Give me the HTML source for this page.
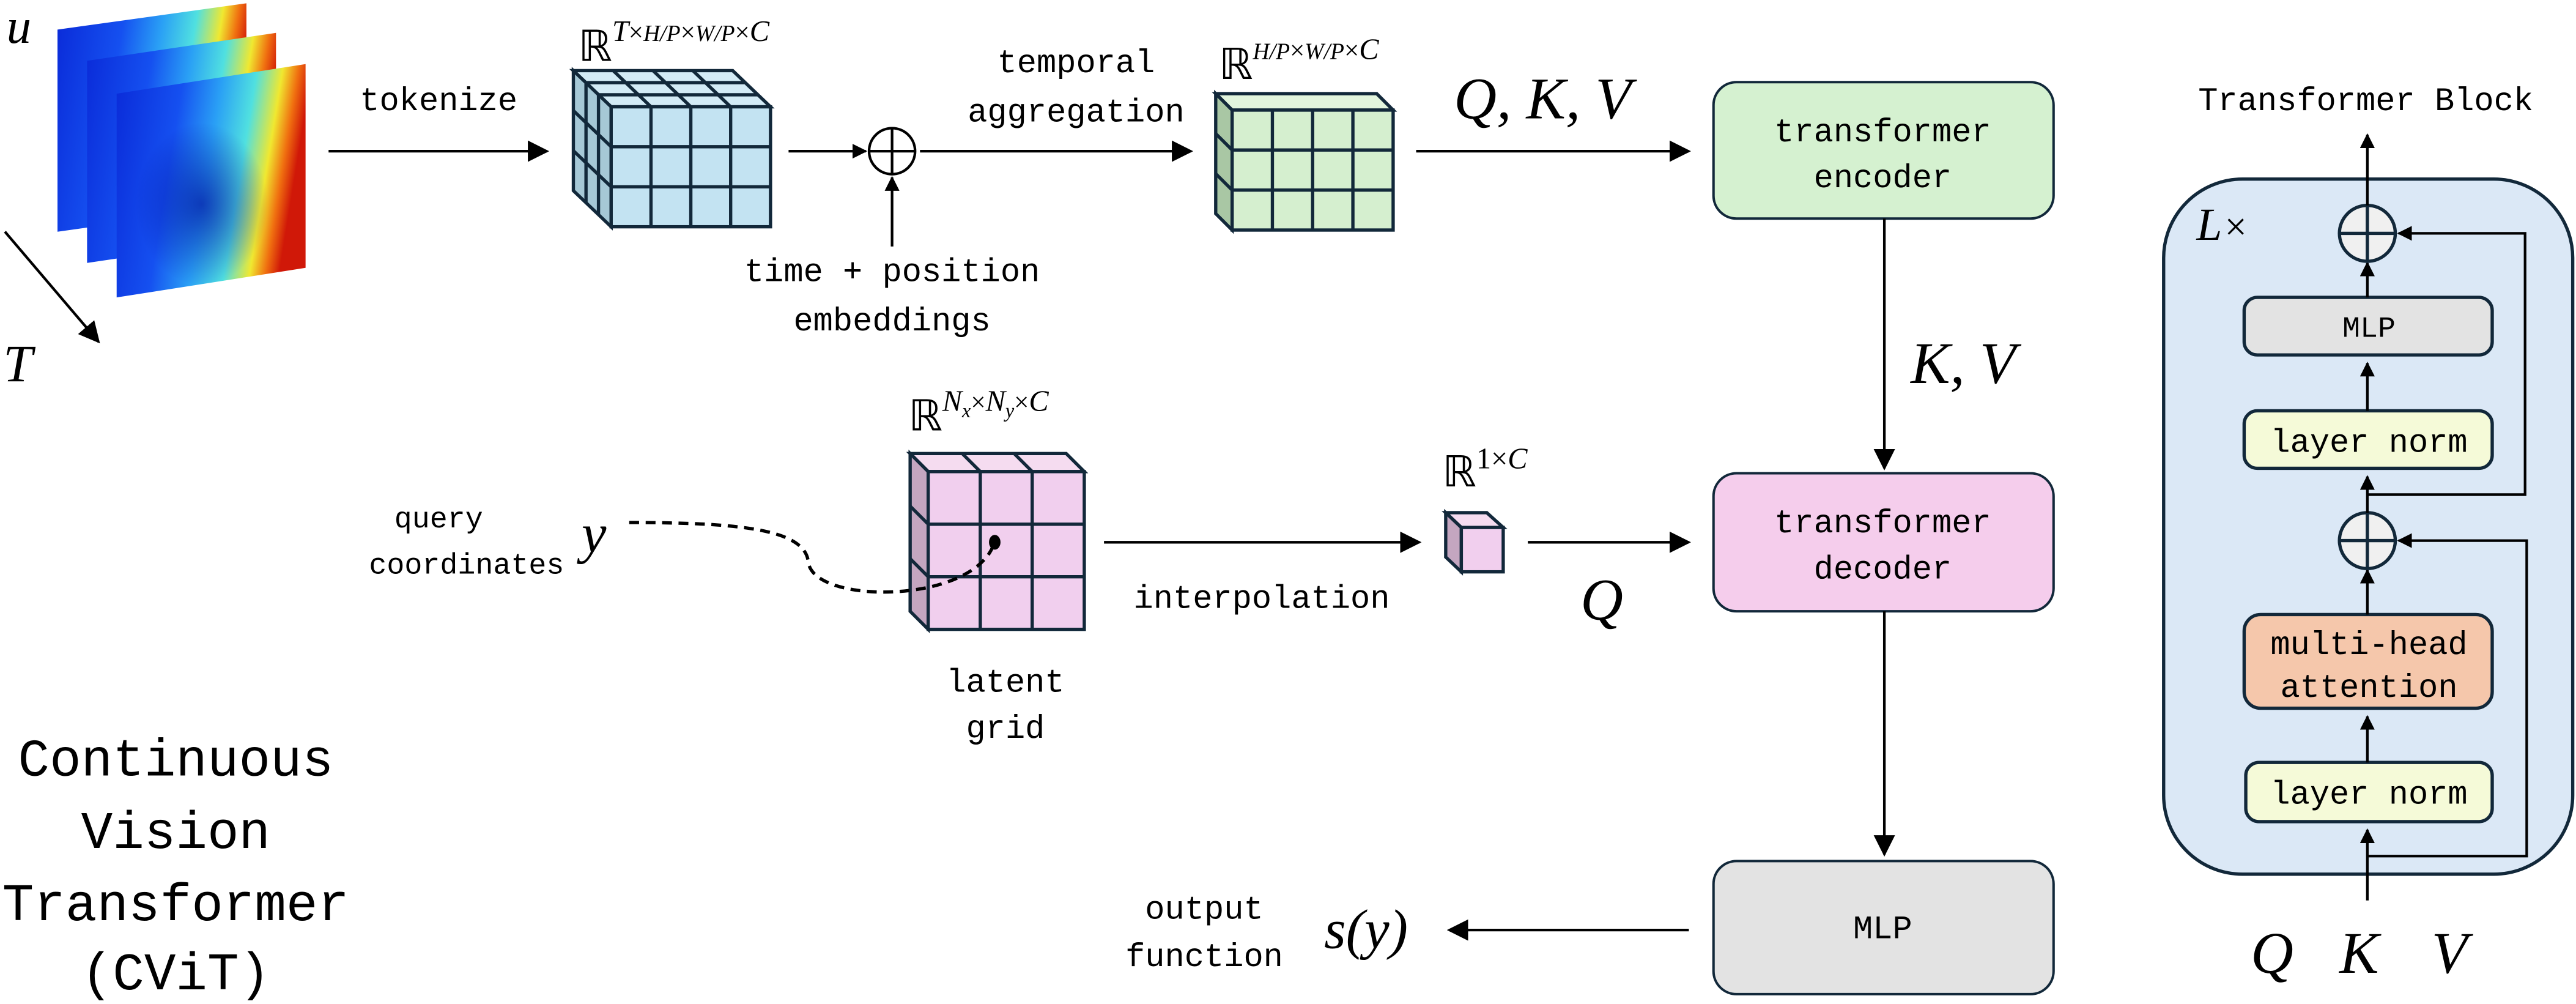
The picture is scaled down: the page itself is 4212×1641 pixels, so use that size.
<!DOCTYPE html>
<html><head><meta charset="utf-8"><style>
html,body{margin:0;padding:0;background:#fff;}
svg{display:block}
.m{font-family:"Liberation Mono",monospace;fill:#000;text-anchor:middle}
.s{font-family:"Liberation Serif",serif;font-style:italic;fill:#000}
.r{font-family:"Liberation Serif",serif;fill:#000}
.ln{stroke:#000;stroke-width:1.6;fill:none}
.c{stroke:#12283a;stroke-width:2;}
</style></head><body>
<svg width="4212" height="1641" viewBox="0 0 1568 611" preserveAspectRatio="none" xmlns="http://www.w3.org/2000/svg">
<defs>
<marker id="a" viewBox="0 0 10 10" refX="9" refY="5" markerWidth="9" markerHeight="9" markerUnits="userSpaceOnUse" orient="auto"><path d="M0,0L10,5L0,10z" fill="#000"/></marker>
<marker id="b" viewBox="0 0 10 10" refX="9" refY="5" markerWidth="13" markerHeight="13" markerUnits="userSpaceOnUse" orient="auto"><path d="M0,0L10,5L0,10z" fill="#000"/></marker>
<linearGradient id="g" x1="0" y1="0" x2="1" y2="0.2">
<stop offset="0" stop-color="#0a2ad8"/><stop offset="0.35" stop-color="#1550f0"/><stop offset="0.55" stop-color="#2aa0f5"/><stop offset="0.72" stop-color="#50e0e0"/><stop offset="0.85" stop-color="#f0e830"/><stop offset="0.93" stop-color="#f07010"/><stop offset="1" stop-color="#d01808"/></linearGradient>
<radialGradient id="g2" cx="0.45" cy="0.6" r="0.35"><stop offset="0" stop-color="#0010a0" stop-opacity="0.7"/><stop offset="1" stop-color="#0010a0" stop-opacity="0"/></radialGradient>
</defs>

<text class="s" x="4" y="26" font-size="30">u</text>
<polygon points="35,18 150,2 150,125 35,141" fill="url(#g)"/>
<polygon points="53,37 168,20 168,143 53,160" fill="url(#g)"/>
<polygon points="71,57 186,39 186,163 71,181" fill="url(#g)"/>
<polygon points="71,57 186,39 186,163 71,181" fill="url(#g2)"/>
<line x1="3" y1="141" x2="60" y2="208" class="ln" marker-end="url(#b)"/>
<text class="s" x="2" y="232" font-size="32">T</text>

<text class="m" x="267" y="67" font-size="20">tokenize</text>
<line x1="200" y1="92" x2="333" y2="92" class="ln" marker-end="url(#b)"/>

<g class="c">
<polygon points="349,43 446,43 469,65 372,65" fill="#d3ebf6"/>
<polygon points="349,43 372,65 372,138 349,116" fill="#a6c8d6"/>
<rect x="372" y="65" width="97" height="73" fill="#c3e3f2"/>
<path d="M396.25,65V138M420.5,65V138M444.75,65V138M372,89.3H469M372,113.7H469M364.3,57.7H461.3M356.7,50.3H453.7M396.25,65L373.25,43M420.5,65L397.5,43M444.75,65L421.75,43M372,89.3L349,67.3M372,113.7L349,91.7M364.3,57.7V130.7M356.7,50.3V123.3" fill="none"/>
</g>
<text class="r" x="352" y="37" font-size="26">ℝ<tspan class="s" font-size="18" dy="-12">T</tspan><tspan font-size="16">×</tspan><tspan class="s" font-size="14">H/P</tspan><tspan font-size="16">×</tspan><tspan class="s" font-size="14">W/P</tspan><tspan font-size="16">×</tspan><tspan class="s" font-size="18">C</tspan></text>

<line x1="480" y1="92" x2="527" y2="92" class="ln" marker-end="url(#a)"/>
<circle cx="543" cy="92" r="14" fill="#fff" stroke="#000" stroke-width="1.6"/>
<path d="M529,92H557M543,78V106" class="ln"/>
<line x1="543" y1="150" x2="543" y2="108" class="ln" marker-end="url(#a)"/>
<text class="m" x="543" y="171" font-size="20">time + position</text>
<text class="m" x="543" y="201" font-size="20">embeddings</text>

<line x1="560" y1="92" x2="725" y2="92" class="ln" marker-end="url(#b)"/>
<text class="m" x="655" y="44" font-size="20">temporal</text>
<text class="m" x="655" y="74" font-size="20">aggregation</text>

<g class="c">
<polygon points="740,57 838,57 848,67 750,67" fill="#e2f5dd"/>
<polygon points="740,57 750,67 750,140 740,130" fill="#a9c7a4"/>
<rect x="750" y="67" width="98" height="73" fill="#d5efcf"/>
<path d="M774.5,67V140M799,67V140M823.5,67V140M750,91.3H848M750,115.7H848M750,91.3L740,81.3M750,115.7L740,105.7" fill="none"/>
</g>
<text class="r" x="742" y="48" font-size="26">ℝ<tspan class="s" font-size="14" dy="-12">H/P</tspan><tspan font-size="16">×</tspan><tspan class="s" font-size="14">W/P</tspan><tspan font-size="16">×</tspan><tspan class="s" font-size="18">C</tspan></text>

<text class="s" x="885" y="72" font-size="36">Q, K, V</text>
<line x1="862" y1="92" x2="1028" y2="92" class="ln" marker-end="url(#b)"/>

<rect x="1043" y="50" width="207" height="83" rx="14" fill="#d5f1d0" stroke="#12283a" stroke-width="1.5"/>
<text class="m" x="1146" y="86" font-size="20">transformer</text>
<text class="m" x="1146" y="114" font-size="20">encoder</text>
<line x1="1147" y1="133" x2="1147" y2="285" class="ln" marker-end="url(#b)"/>
<text class="s" x="1163" y="233" font-size="36">K, V</text>

<rect x="1043" y="288" width="207" height="84" rx="14" fill="#f5cdec" stroke="#12283a" stroke-width="1.5"/>
<text class="m" x="1146" y="324" font-size="20">transformer</text>
<text class="m" x="1146" y="352" font-size="20">decoder</text>
<line x1="1147" y1="372" x2="1147" y2="520" class="ln" marker-end="url(#b)"/>

<rect x="1043" y="524" width="207" height="81" rx="14" fill="#e3e3e3" stroke="#12283a" stroke-width="1.5"/>
<text class="m" x="1146" y="571" font-size="20">MLP</text>
<line x1="1028" y1="566" x2="882" y2="566" class="ln" marker-end="url(#b)"/>
<text class="s" x="806" y="577" font-size="34">s<tspan class="r">(</tspan>y<tspan class="r">)</tspan></text>
<text class="m" x="733" y="559" font-size="20">output</text>
<text class="m" x="733" y="588" font-size="20">function</text>

<text class="m" x="267" y="321" font-size="18">query</text>
<text class="m" x="284" y="349" font-size="18">coordinates</text>
<text class="s" x="354" y="336" font-size="34">y</text>

<g class="c">
<polygon points="554,276 649,276 660,287 565,287" fill="#f5dcf0"/>
<polygon points="554,276 565,287 565,383 554,372" fill="#c4a6c0"/>
<rect x="565" y="287" width="95" height="96" fill="#f1cfee"/>
<path d="M596.7,287V383M628.3,287V383M565,319H660M565,351H660M596.7,287L585.7,276M628.3,287L617.3,276M565,319L554,308M565,351L554,340" fill="none"/>
</g>
<text class="r" x="553" y="262" font-size="26">ℝ<tspan class="s" font-size="18" dy="-12">N</tspan><tspan class="s" font-size="12" dy="4">x</tspan><tspan font-size="16" dy="-4">×</tspan><tspan class="s" font-size="18">N</tspan><tspan class="s" font-size="12" dy="4">y</tspan><tspan font-size="16" dy="-4">×</tspan><tspan class="s" font-size="18">C</tspan></text>
<path d="M383,318 C450,318 490,322 492,342 C495,368 592,368 605,331" stroke="#000" stroke-width="2" stroke-dasharray="6,4" fill="none"/>
<ellipse cx="605.5" cy="330" rx="3.5" ry="4.5" fill="#000"/>
<text class="m" x="612" y="421" font-size="20">latent</text>
<text class="m" x="612" y="449" font-size="20">grid</text>

<line x1="672" y1="330" x2="864" y2="330" class="ln" marker-end="url(#b)"/>
<text class="m" x="768" y="370" font-size="20">interpolation</text>

<g class="c">
<polygon points="880,312 905,312 915,321 889.5,321" fill="#f5dcf0"/>
<polygon points="880,312 889.5,321 889.5,348 880,339" fill="#c4a6c0"/>
<rect x="889.5" y="321" width="25.5" height="27" fill="#f1cfee"/>
</g>
<text class="r" x="878" y="296" font-size="26">ℝ<tspan class="r" font-size="18" dy="-11">1×</tspan><tspan class="s" font-size="18">C</tspan></text>
<line x1="930" y1="330" x2="1028" y2="330" class="ln" marker-end="url(#b)"/>
<text class="s" x="962" y="377" font-size="36">Q</text>

<text class="m" x="107" y="472" font-size="32">Continuous</text>
<text class="m" x="107" y="516" font-size="32">Vision</text>
<text class="m" x="107" y="560" font-size="32">Transformer</text>
<text class="m" x="107" y="602" font-size="32">(CViT)</text>

<text class="m" x="1440" y="67" font-size="20">Transformer Block</text>
<rect x="1317" y="109" width="249" height="423" rx="48" fill="#dbe8f6" stroke="#12283a" stroke-width="2"/>
<text class="s" x="1337" y="146" font-size="28">L<tspan class="r" font-size="24">×</tspan></text>

<path d="M1441,548V505" class="ln" stroke-width="2" marker-end="url(#a)"/>
<rect x="1367" y="464" width="150" height="36" rx="8" fill="#f5fad8" stroke="#12283a" stroke-width="2"/>
<text class="m" x="1442" y="489" font-size="20">layer norm</text>
<path d="M1441,464V436" class="ln" stroke-width="2" marker-end="url(#a)"/>
<rect x="1366" y="374" width="151" height="57" rx="10" fill="#f5c7ab" stroke="#12283a" stroke-width="2"/>
<text class="m" x="1442" y="398" font-size="20">multi-head</text>
<text class="m" x="1442" y="424" font-size="20">attention</text>
<path d="M1441,374V347" class="ln" stroke-width="2" marker-end="url(#a)"/>
<circle cx="1441" cy="329" r="17" fill="#f0f0f0" stroke="#12283a" stroke-width="2"/>
<path d="M1424,329H1458M1441,312V346" stroke="#12283a" stroke-width="2"/>
<path d="M1441,521H1538V329H1460" class="ln" marker-end="url(#a)"/>
<path d="M1441,312V290" class="ln" stroke-width="2" marker-end="url(#a)"/>
<rect x="1366" y="250" width="151" height="35" rx="8" fill="#f5fad8" stroke="#12283a" stroke-width="2"/>
<text class="m" x="1442" y="275" font-size="20">layer norm</text>
<path d="M1441,250V221" class="ln" stroke-width="2" marker-end="url(#a)"/>
<rect x="1366" y="181" width="151" height="35" rx="8" fill="#e3e3e3" stroke="#12283a" stroke-width="2"/>
<text class="m" x="1442" y="205" font-size="18">MLP</text>
<path d="M1441,181V160" class="ln" stroke-width="2" marker-end="url(#a)"/>
<circle cx="1441" cy="142" r="17" fill="#f0f0f0" stroke="#12283a" stroke-width="2"/>
<path d="M1424,142H1458M1441,125V159" stroke="#12283a" stroke-width="2"/>
<path d="M1441,301H1537V142H1460" class="ln" marker-end="url(#a)"/>
<path d="M1441,125V82" class="ln" stroke-width="2" marker-end="url(#a)"/>
<text class="s" x="1370" y="592" font-size="36">Q</text>
<text class="s" x="1424" y="592" font-size="36">K</text>
<text class="s" x="1480" y="592" font-size="36">V</text>
</svg>
</body></html>
